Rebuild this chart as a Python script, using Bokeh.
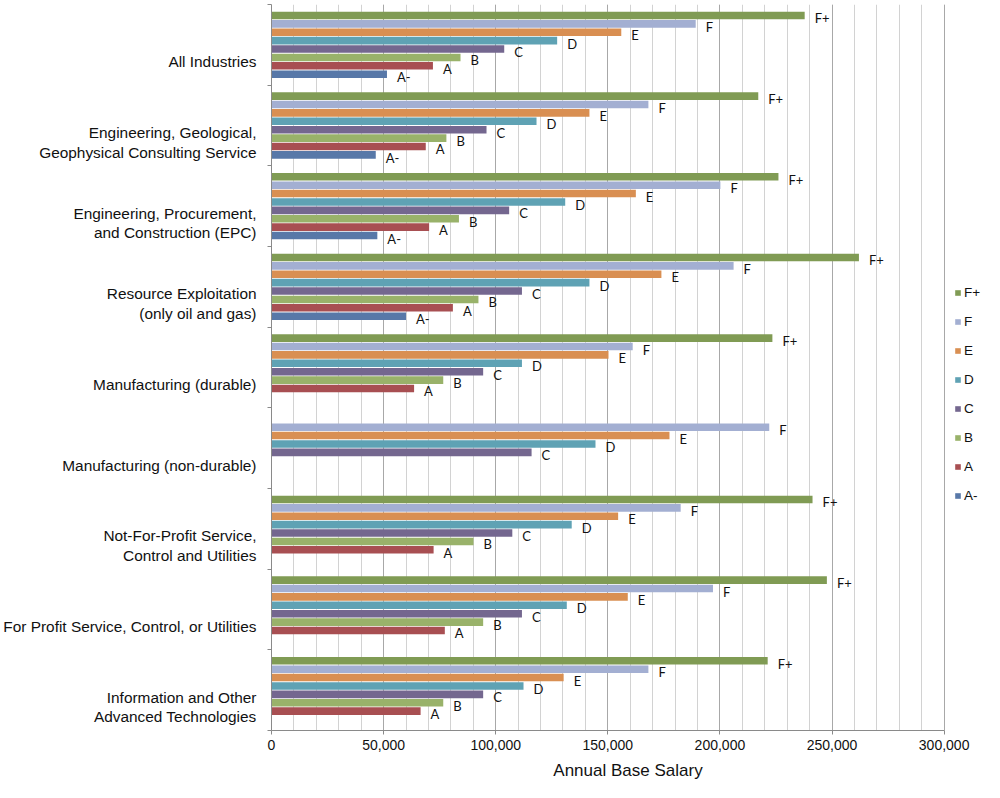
from bokeh.plotting import figure
from bokeh.models import (ColumnDataSource, Range1d, FixedTicker, NumeralTickFormatter,
                          Legend)
from bokeh.transform import dodge
from bokeh.core.properties import value
from bokeh.embed import file_html
from bokeh.resources import INLINE

industries = [
    "All Industries",
    "Engineering, Geological,\nGeophysical Consulting Service",
    "Engineering, Procurement,\nand Construction (EPC)",
    "Resource Exploitation\n(only oil and gas)",
    "Manufacturing (durable)",
    "Manufacturing (non-durable)",
    "Not-For-Profit Service,\nControl and Utilities",
    "For Profit Service, Control, or Utilities",
    "Information and Other\nAdvanced Technologies",
]

levels = ["A-", "A", "B", "C", "D", "E", "F", "F+"]

sal_Am = [51500, 46500, 47200, 60000, None, None, None, None, None]
sal_A = [72000, 68800, 70300, 80900, 63600, None, 72300, 77300, 66500]
sal_B = [84300, 78000, 83600, 92300, 76600, None, 90100, 94400, 76600]
sal_C = [103800, 95900, 106000, 111700, 94400, 116000, 107400, 111700, 94400]
sal_D = [127400, 118200, 131000, 141800, 111700, 144500, 133900, 131700, 112400]
sal_E = [156000, 141800, 162500, 173900, 150300, 177500, 154600, 158900, 130300]
sal_F = [189200, 168100, 200200, 206100, 161100, 222000, 182500, 196900, 168100]
sal_Fp = [237800, 217100, 226100, 262000, 223400, None, 241300, 247700, 221300]

series = [sal_Am, sal_A, sal_B, sal_C, sal_D, sal_E, sal_F, sal_Fp]
colors = ["#5878A8", "#A84F52", "#99B26A", "#74678F", "#5FA2B4", "#D98F52", "#A3AFD2", "#809B54"]

x_ticks = [0, 50000, 100000, 150000, 200000, 250000, 300000]
x_minor = list(range(0, 300001, 10000))

n = len(industries)
slot = 0.104
bar_h = 0.094
label_drop = 0.21

p = figure(width=984, height=782, output_backend="svg", toolbar_location=None,
           x_range=Range1d(0, 318000), y_range=Range1d(0, n),
           min_border_left=264, min_border_right=0, min_border_top=4, min_border_bottom=52)
p.outline_line_color = None
p.background_fill_color = "white"

centers = [n - i - 0.5 for i in range(n)]
label_pos = [c - label_drop for c in centers]

renderers = []
for j in reversed(range(len(levels))):
    vals = series[j]
    rows = [i for i in range(n) if vals[i] is not None]
    src = ColumnDataSource(dict(
        gpos=[centers[i] for i in rows],
        sal=[vals[i] for i in rows],
    ))
    off = (j - 3.5) * slot
    r = p.hbar(y=dodge("gpos", off, range=p.y_range), left=0, right="sal", height=bar_h,
               source=src, fill_color=colors[j], line_color=None)
    renderers.append((levels[j], [r]))
    p.text(x="sal", y=dodge("gpos", off, range=p.y_range), text=value(levels[j]), source=src,
           x_offset=10, y_offset=3, text_align="left", text_baseline="middle",
           text_font=value("Lato"), text_font_size="13px", text_color="#111111")

legend = Legend(items=renderers, location=(683, 224), padding=0, margin=0,
                glyph_width=7, glyph_height=7, label_height=21, spacing=8,
                label_standoff=3, label_text_font="Liberation Sans", label_text_font_size="13.5px",
                label_text_color="#111111", background_fill_alpha=0, border_line_color=None)
p.add_layout(legend)

# x axis
xa = p.xaxis[0]
xa.ticker = FixedTicker(ticks=x_ticks, minor_ticks=x_minor)
xa.formatter = NumeralTickFormatter(format="0,0")
xa.bounds = (0, 300000)
xa.axis_line_color = "#8a8a8a"
xa.major_tick_line_color = "#8a8a8a"
xa.major_tick_out = 4
xa.major_tick_in = 0
xa.minor_tick_line_color = None
xa.major_label_text_font = "Liberation Sans"
xa.major_label_text_font_size = "14px"
xa.major_label_text_color = "#111111"
xa.major_label_standoff = 5
xa.axis_label = "Annual Base Salary"
xa.axis_label_text_font = "Liberation Sans"
xa.axis_label_text_font_size = "17px"
xa.axis_label_text_font_style = "normal"
xa.axis_label_text_color = "#111111"
xa.axis_label_standoff = 8

p.xgrid.grid_line_color = "#a8a8a8"
p.xgrid.minor_grid_line_color = "#d2d2d2"
p.xgrid.bounds = (0, 300000)
p.ygrid.grid_line_color = None

# y axis
ya = p.yaxis[0]
ya.ticker = FixedTicker(ticks=label_pos, minor_ticks=list(range(0, n + 1)))
ya.major_label_overrides = {c: lab for c, lab in zip(label_pos, industries)}
ya.major_tick_line_color = None
ya.major_tick_out = 0
ya.major_tick_in = 0
ya.minor_tick_line_color = "#8a8a8a"
ya.minor_tick_out = 4
ya.minor_tick_in = 0
ya.axis_line_color = "#8a8a8a"
ya.major_label_standoff = 11
ya.major_label_text_font = "Liberation Sans"
ya.major_label_text_font_size = "15.4px"
ya.major_label_text_line_height = 1.15
ya.major_label_text_color = "#111111"

open("out.html", "w").write(file_html(p, INLINE))
